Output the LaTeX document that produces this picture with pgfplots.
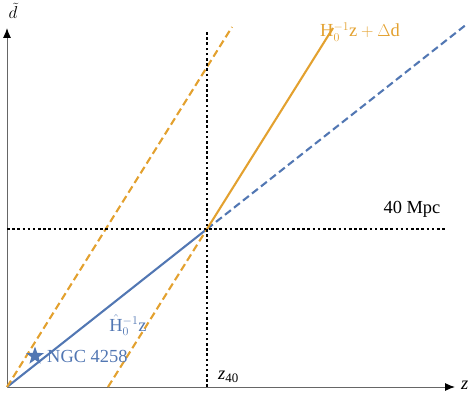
\documentclass[border=0pt]{standalone}
\usepackage{fontspec}
\setmainfont{Liberation Serif}
\usepackage{pgfplots}
\pgfplotsset{compat=1.18}
\usetikzlibrary{arrows.meta}
\definecolor{cblue}{HTML}{5277B3}
\definecolor{corange}{HTML}{E3A12F}
\pgfdeclareplotmark{fstar}{%
  \pgfpathmoveto{\pgfqpointpolar{90}{\pgfplotmarksize}}%
  \pgfpathlineto{\pgfqpointpolar{126}{0.4\pgfplotmarksize}}%
  \pgfpathlineto{\pgfqpointpolar{162}{\pgfplotmarksize}}%
  \pgfpathlineto{\pgfqpointpolar{198}{0.4\pgfplotmarksize}}%
  \pgfpathlineto{\pgfqpointpolar{234}{\pgfplotmarksize}}%
  \pgfpathlineto{\pgfqpointpolar{270}{0.4\pgfplotmarksize}}%
  \pgfpathlineto{\pgfqpointpolar{306}{\pgfplotmarksize}}%
  \pgfpathlineto{\pgfqpointpolar{342}{0.4\pgfplotmarksize}}%
  \pgfpathlineto{\pgfqpointpolar{18}{\pgfplotmarksize}}%
  \pgfpathlineto{\pgfqpointpolar{54}{0.4\pgfplotmarksize}}%
  \pgfpathclose
  \pgfusepathqfill}
\begin{document}
\begin{tikzpicture}[x=1bp,y=1bp]
\useasboundingbox (-7bp,-12bp) rectangle (467bp,387bp);
\begin{axis}[
  at={(0,0)}, anchor=origin,
  x=1bp, y=1bp,
  xmin=0, xmax=448, ymin=0, ymax=359,
  axis lines=left,
  axis line style={gray!80!black, line width=1pt, -{Latex[length=10bp,width=8bp,black]}},
  xtick=\empty, ytick=\empty,
  clip=false,
  font=\fontsize{18.5}{21}\selectfont,
]
\addplot[cblue, line width=2.1pt] coordinates {(0,0) (200,158)};
\addplot[cblue, line width=2.1pt, dash pattern=on 7.5pt off 4pt] coordinates {(200,158) (460,363)};
\addplot[corange, line width=2.1pt, dash pattern=on 7.5pt off 4pt] coordinates {(0,0) (225,360)};
\addplot[corange, line width=2.1pt, dash pattern=on 7.5pt off 4pt] coordinates {(101,0) (200,158)};
\addplot[corange, line width=2.1pt] coordinates {(200,158) (326,359)};
\addplot[black, line width=3pt, dash pattern=on 2.6pt off 2.6pt] coordinates {(200,0) (200,355)};
\addplot[black, line width=3pt, dash pattern=on 2.6pt off 2.6pt] coordinates {(0,158) (438,158)};
\addplot[cblue, only marks, mark=fstar, mark size=9.5pt] coordinates {(28,31)};
\node[cblue, anchor=west, inner sep=0pt] at (axis cs:40,31) {NGC 4258};
\node[cblue, anchor=center, inner sep=0pt] at (axis cs:121,62) {$\hat{\mathrm{H}}_0^{-1}\mathrm{z}$};
\node[corange, anchor=west, inner sep=0pt] at (axis cs:313,355) {$\mathrm{H}_0^{-1}\mathrm{z} + \Delta\mathrm{d}$};
\node[black, anchor=center, inner sep=0pt] at (axis cs:405,178) {40 Mpc};
\node[black, anchor=west, inner sep=0pt] at (axis cs:211,10) {\textit{z}\textsubscript{40}};
\node[black, anchor=west, inner sep=0pt] at (axis cs:454,2) {\textit{z}};
\node[black, anchor=center, inner sep=0pt] at (axis cs:6,376) {$\tilde{d}$};
\end{axis}
\end{tikzpicture}
\end{document}
